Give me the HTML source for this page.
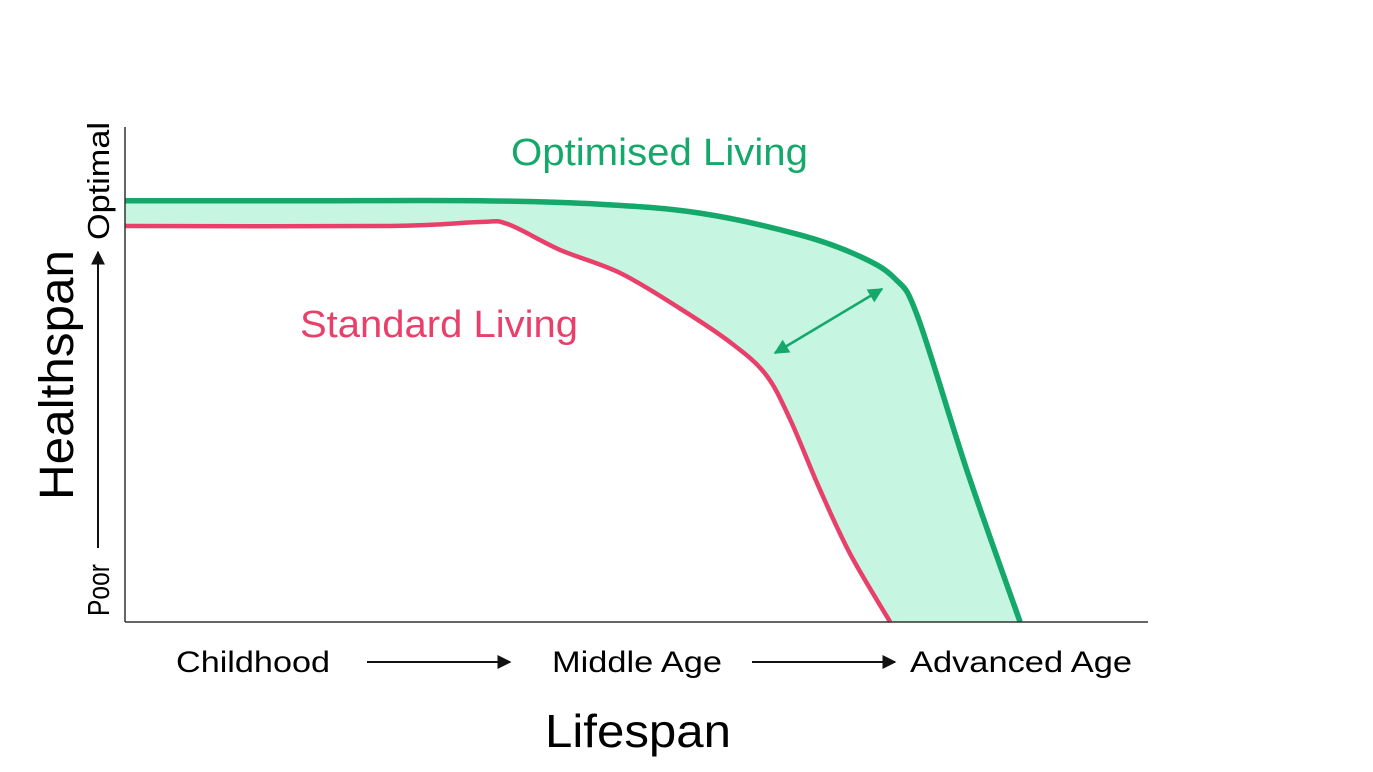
<!DOCTYPE html>
<html><head><meta charset="utf-8"><style>
html,body{margin:0;padding:0;background:#fff;}
svg{display:block;font-family:"Liberation Sans",Arial,sans-serif;}
</style></head><body>
<svg id="chart" width="1373" height="772" viewBox="0 0 1373 772">
<defs>
<marker id="ah" viewBox="0 0 10 10" refX="9" refY="5" markerWidth="7" markerHeight="7" orient="auto-start-reverse"><path d="M0,0 L10,5 L0,10 z" fill="#111"/></marker>
<marker id="ag" viewBox="0 0 10 10" refX="9" refY="5" markerWidth="6" markerHeight="6" orient="auto-start-reverse"><path d="M0,0 L10,5 L0,10 z" fill="#14a86b"/></marker>
</defs>
<path id="gap" fill="#c6f6e1" stroke="none"/>
<path id="std" fill="none" stroke="#e8406a" stroke-width="4.5" stroke-linejoin="round"/>
<path id="opt" fill="none" stroke="#14a86b" stroke-width="5.5" stroke-linejoin="round"/>
<line x1="125" y1="127" x2="125" y2="622" stroke="#333" stroke-width="1.5"/>
<line x1="125" y1="622" x2="1148" y2="622" stroke="#333" stroke-width="1.5"/>
<line x1="775" y1="353" x2="882" y2="289" stroke="#14a86b" stroke-width="2.5" marker-start="url(#ag)" marker-end="url(#ag)"/>
<text x="511" y="165" textLength="297" lengthAdjust="spacingAndGlyphs" font-size="38" fill="#14a86b">Optimised Living</text>
<text x="300" y="337" textLength="278" lengthAdjust="spacingAndGlyphs" font-size="38" fill="#e8406a">Standard Living</text>
<text transform="translate(73,500) rotate(-90)" textLength="250" lengthAdjust="spacingAndGlyphs" font-size="48" fill="#000">Healthspan</text>
<text transform="translate(109,616) rotate(-90)" textLength="52" lengthAdjust="spacingAndGlyphs" font-size="31" fill="#000">Poor</text>
<text transform="translate(109,240) rotate(-90)" textLength="118" lengthAdjust="spacingAndGlyphs" font-size="31" fill="#000">Optimal</text>
<line x1="98" y1="548" x2="98" y2="252" stroke="#111" stroke-width="2" marker-end="url(#ah)"/>
<text x="176" y="672" textLength="154" lengthAdjust="spacingAndGlyphs" font-size="30">Childhood</text>
<line x1="367" y1="662" x2="510" y2="662" stroke="#111" stroke-width="2" marker-end="url(#ah)"/>
<text x="552" y="672" textLength="170" lengthAdjust="spacingAndGlyphs" font-size="30">Middle Age</text>
<line x1="752" y1="662" x2="895" y2="662" stroke="#111" stroke-width="2" marker-end="url(#ah)"/>
<text x="910" y="672" textLength="222" lengthAdjust="spacingAndGlyphs" font-size="30">Advanced Age</text>
<text x="545" y="747" textLength="186" lengthAdjust="spacingAndGlyphs" font-size="46">Lifespan</text>
</svg>
<script>
const optX=[0,17.1,34.7,46.4,56.2,66.0,71.8,75.3,77.5,82.4,87.5];
const optY=[85.1,85.1,85.1,84.4,82.6,78.2,73.9,69.3,61.6,30.0,0];
const stdX=[0,25.9,34.7,37.4,42.5,48.4,54.2,59.1,62.6,65.0,67.9,70.9,74.8];
const stdY=[80.0,80.0,80.8,80.4,75.2,70.5,63.4,56.6,50.1,41.0,26.9,13.7,0];
const sx=v=>125+v/100*1023, sy=v=>622-v/100*495;
function pts(X,Y){return X.map((x,i)=>[sx(x),sy(Y[i])]);}
function smooth(p){let d="M"+p[0][0]+","+p[0][1];
for(let i=0;i<p.length-1;i++){const p0=p[i-1]||p[i],p1=p[i],p2=p[i+1],p3=p[i+2]||p2;
const c1=[p1[0]+(p2[0]-p0[0])/6,p1[1]+(p2[1]-p0[1])/6],c2=[p2[0]-(p3[0]-p1[0])/6,p2[1]-(p3[1]-p1[1])/6];
d+=` C${c1[0]},${c1[1]} ${c2[0]},${c2[1]} ${p2[0]},${p2[1]}`;}return d;}
const po=pts(optX,optY), ps=pts(stdX,stdY);
document.getElementById('opt').setAttribute('d',smooth(po));
document.getElementById('std').setAttribute('d',smooth(ps));
const rev=ps.slice().reverse();
document.getElementById('gap').setAttribute('d',smooth(po)+" L"+rev[0][0]+","+rev[0][1]+smooth(rev).replace(/^M[^C]*/,"")+" Z");
</script>
</body></html>
